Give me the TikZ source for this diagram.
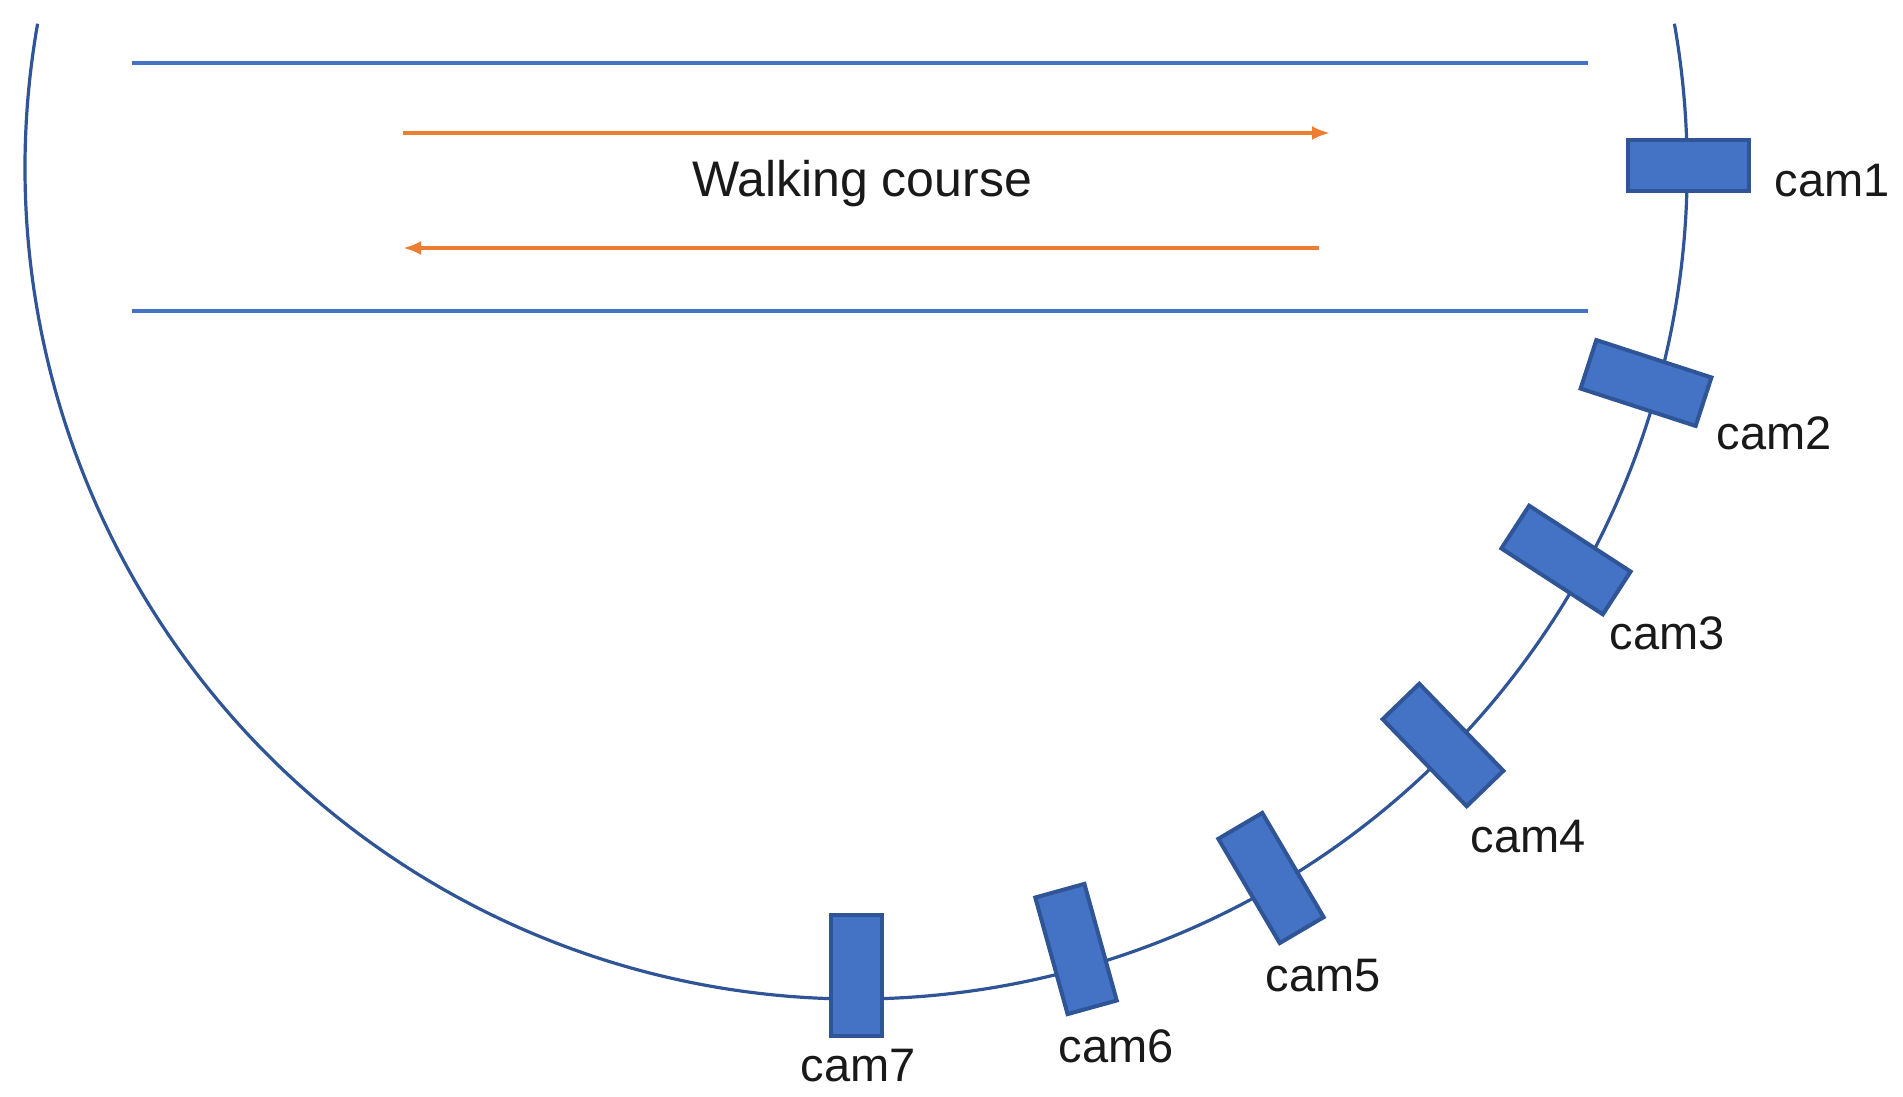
\documentclass[tikz,border=0pt]{standalone}
\usepackage{fontspec}
\setmainfont{Liberation Sans}
\usetikzlibrary{arrows.meta,calc}
\definecolor{bfill}{HTML}{4472C4}
\definecolor{bdraw}{HTML}{2F5597}
\definecolor{org}{HTML}{ED7D31}
\begin{document}
\begin{tikzpicture}[x=0.5pt,y=-0.5pt,
  cam/.style={draw=bdraw,fill=bfill,line width=2pt,minimum width=121*0.5pt,minimum height=51*0.5pt,inner sep=0pt},
  lab/.style={font=\fontsize{23.5}{26}\selectfont,text=black!90},
  track/.style={draw=bfill,line width=2pt},
  walk/.style={draw=org,line width=2pt,-{Latex[length=9pt,width=7pt]}}]
\useasboundingbox (0,0) rectangle (1903,1097);
\coordinate (c) at (856,168);
\draw[bdraw,line width=1.6pt] ($(c)+({831*cos(10)},{-831*sin(10)})$) arc[start angle=-10,end angle=190,radius=831];
\coordinate (l1a) at (132,63); \coordinate (l1b) at (1588,63);
\coordinate (l2a) at (132,311); \coordinate (l2b) at (1588,311);
\draw[track] (l1a) -- (l1b);
\draw[track] (l2a) -- (l2b);
\coordinate (a1) at (403,133); \coordinate (a2) at (1330,133);
\coordinate (b1) at (1319,248); \coordinate (b2) at (403,248);
\draw[walk] (a1) -- (a2);
\draw[walk] (b1) -- (b2);
\node[lab,font=\fontsize{25}{28}\selectfont] (wc) at (862,184) {Walking course};
\foreach \i/\a/\x/\y in {1/0/1688/166,2/-18/1646/383,3/-33/1566/560,4/-46/1443/745,5/-59.5/1271/878,6/-74.5/1076/949,7/-90/856/975}{
  \node[cam,rotate=\a] (cam\i) at (\x,\y) {};
}
\node[lab] (t1) at (1832,181) {cam1};
\node[lab] (t2) at (1774,433) {cam2};
\node[lab] (t3) at (1667,633) {cam3};
\node[lab] (t4) at (1528,837) {cam4};
\node[lab] (t5) at (1323,976) {cam5};
\node[lab] (t6) at (1116,1046) {cam6};
\node[lab] (t7) at (858,1066) {cam7};
\end{tikzpicture}
\end{document}
